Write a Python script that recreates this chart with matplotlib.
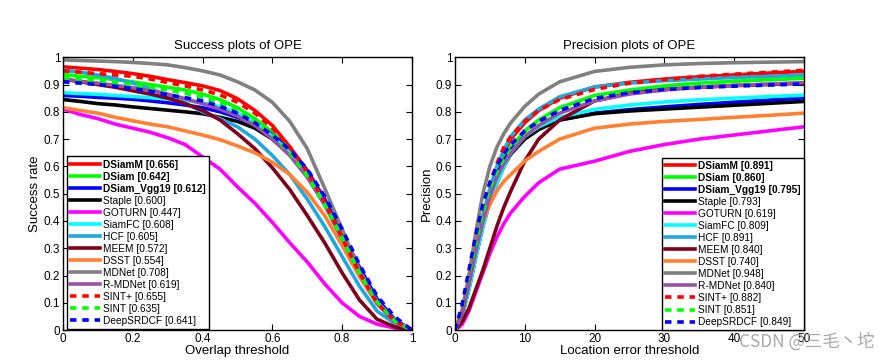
import numpy as np
import matplotlib
matplotlib.use("Agg")
import matplotlib.pyplot as plt
from matplotlib.ticker import FuncFormatter

plt.rcParams['font.family'] = ['Liberation Sans', 'DejaVu Sans']

# trackers (legend order)
names = ["DSiamM", "DSiam", "DSiam_Vgg19", "Staple", "GOTURN", "SiamFC", "HCF",
         "MEEM", "DSST", "MDNet", "R-MDNet", "SINT+", "SINT", "DeepSRDCF"]
auc = ["0.656", "0.642", "0.612", "0.600", "0.447", "0.608", "0.605",
       "0.572", "0.554", "0.708", "0.619", "0.655", "0.635", "0.641"]
prec20 = ["0.891", "0.860", "0.795", "0.793", "0.619", "0.809", "0.891",
          "0.840", "0.740", "0.948", "0.840", "0.882", "0.851", "0.849"]
colors = ["#ff0000", "#00ff00", "#0000ff", "#000000", "#ff00ff", "#00ffff", "#1ea8e0",
          "#80001a", "#ff8030", "#808080", "#9b50a8", "#ff0000", "#00ff00", "#0000ff"]
dashed = [False] * 11 + [True] * 3
bold = [True, True, True] + [False] * 11

# success plot: overlap thresholds 0:0.05:1
overlap = np.linspace(0, 1, 21)
success = {
    "DSiamM":      [.965, .96, .955, .948, .94, .93, .918, .907, .895, .878, .848, .805, .75, .672, .585, .47, .34, .21, .10, .035, 0],
    "DSiam":       [.937, .93, .925, .918, .91, .90, .89, .88, .865, .845, .815, .775, .725, .66, .575, .47, .345, .22, .11, .035, 0],
    "DSiam_Vgg19": [.86, .857, .853, .85, .846, .84, .833, .825, .815, .80, .78, .755, .715, .66, .585, .48, .355, .23, .115, .04, 0],
    "Staple":      [.845, .838, .83, .825, .818, .812, .806, .80, .793, .78, .765, .74, .70, .645, .565, .46, .335, .21, .10, .035, 0],
    "GOTURN":      [.81, .79, .775, .755, .74, .725, .705, .68, .635, .59, .525, .465, .395, .32, .25, .17, .10, .05, .022, .008, 0],
    "SiamFC":      [.87, .867, .864, .86, .856, .852, .848, .842, .833, .818, .795, .76, .71, .65, .57, .465, .34, .215, .105, .035, 0],
    "HCF":         [.953, .945, .935, .922, .905, .885, .86, .832, .80, .775, .745, .70, .64, .57, .48, .38, .27, .16, .07, .025, 0],
    "MEEM":        [.92, .91, .90, .89, .877, .865, .85, .83, .805, .77, .72, .665, .595, .515, .42, .32, .21, .11, .04, .012, 0],
    "DSST":        [.815, .805, .795, .78, .767, .755, .745, .73, .715, .698, .675, .65, .615, .57, .505, .42, .31, .195, .095, .035, 0],
    "MDNet":       [.99, .988, .986, .984, .981, .977, .972, .962, .95, .935, .91, .88, .835, .765, .665, .52, .37, .22, .10, .03, 0],
    "R-MDNet":     [.92, .912, .905, .897, .888, .878, .865, .848, .83, .81, .785, .75, .70, .64, .56, .46, .335, .21, .10, .035, 0],
    "SINT+":       [.95, .945, .94, .935, .93, .92, .907, .895, .88, .862, .835, .795, .74, .67, .58, .47, .34, .21, .10, .035, 0],
    "SINT":        [.925, .92, .915, .908, .90, .89, .88, .868, .853, .833, .805, .765, .715, .65, .565, .46, .335, .21, .105, .035, 0],
    "DeepSRDCF":   [.91, .905, .90, .893, .885, .875, .862, .852, .84, .82, .795, .76, .715, .66, .59, .49, .37, .24, .125, .05, 0],
}

# precision plot: location error thresholds (pixels)
loc_err = [0, 1, 2, 3, 4, 5, 6, 7, 8, 10, 12, 15, 20, 25, 30, 35, 40, 45, 50]
precision = {
    "DSiamM":      [0, .05, .16, .29, .41, .51, .59, .65, .70, .76, .805, .85, .891, .908, .92, .928, .935, .942, .948],
    "DSiam":       [0, .07, .19, .31, .42, .51, .58, .63, .67, .73, .77, .815, .86, .88, .895, .905, .912, .918, .923],
    "DSiam_Vgg19": [0, .06, .17, .30, .41, .50, .57, .62, .66, .71, .74, .77, .795, .808, .818, .827, .835, .843, .851],
    "Staple":      [0, .05, .15, .27, .38, .47, .54, .60, .645, .70, .735, .77, .793, .803, .81, .817, .824, .831, .838],
    "GOTURN":      [0, .02, .07, .14, .21, .28, .34, .39, .43, .49, .54, .59, .619, .655, .68, .70, .715, .73, .745],
    "SiamFC":      [0, .05, .15, .27, .38, .47, .54, .60, .65, .71, .745, .78, .809, .825, .836, .844, .85, .856, .861],
    "HCF":         [0, .06, .17, .30, .42, .52, .60, .66, .71, .77, .81, .855, .891, .905, .914, .92, .926, .93, .935],
    "MEEM":        [0, .03, .08, .15, .22, .30, .38, .45, .51, .62, .70, .77, .84, .868, .882, .89, .896, .90, .905],
    "DSST":        [0, .07, .20, .31, .40, .46, .51, .545, .57, .62, .655, .70, .74, .755, .765, .772, .78, .787, .795],
    "MDNet":       [0, .06, .20, .36, .50, .60, .67, .72, .76, .82, .865, .91, .948, .963, .972, .977, .98, .982, .984],
    "R-MDNet":     [0, .06, .17, .29, .40, .49, .56, .61, .65, .71, .75, .795, .84, .865, .88, .89, .897, .902, .907],
    "SINT+":       [0, .07, .19, .32, .44, .54, .61, .67, .71, .765, .805, .845, .882, .905, .918, .93, .938, .945, .952],
    "SINT":        [0, .08, .20, .32, .43, .52, .58, .63, .67, .725, .765, .81, .851, .877, .893, .904, .912, .918, .924],
    "DeepSRDCF":   [0, .09, .22, .35, .46, .54, .60, .645, .68, .73, .765, .805, .849, .87, .882, .889, .894, .898, .902],
}

fig = plt.figure(figsize=(8.9, 3.6), dpi=100)
ax1 = fig.add_axes([0.0708, 0.083, 0.392, 0.758])
ax2 = fig.add_axes([0.5112, 0.083, 0.392, 0.758])

def tick_fmt(v, pos):
    s = f"{v:.1f}"
    if s.endswith(".0"):
        s = s[:-2]
    return s

def draw(ax, xs, data, scores, xlabel, ylabel, title, xticks):
    for i, n in enumerate(names):
        ls = (0, (1.8, 1.6)) if dashed[i] else '-'
        ax.plot(xs, data[n], color=colors[i], lw=2.6, ls=ls,
                label=f"{n} [{scores[i]}]")
    ax.set_ylim(0, 1)
    ax.set_xlim(xs[0], xs[-1])
    ax.set_xticks(xticks)
    ax.set_yticks(np.arange(0, 1.01, 0.1))
    ax.xaxis.set_major_formatter(FuncFormatter(tick_fmt))
    ax.yaxis.set_major_formatter(FuncFormatter(tick_fmt))
    ax.tick_params(direction='in', top=True, right=True, labelsize=8.5, length=4, pad=2)
    ax.set_xlabel(xlabel, fontsize=9.5, labelpad=0)
    ax.set_ylabel(ylabel, fontsize=9.5, labelpad=2)
    ax.set_title(title, fontsize=9.5, pad=6)
    for sp in ax.spines.values():
        sp.set_linewidth(1.0)

draw(ax1, overlap, success, auc, "Overlap threshold", "Success rate",
     "Success plots of OPE", [0, 0.2, 0.4, 0.6, 0.8, 1])
draw(ax2, loc_err, precision, prec20, "Location error threshold", "Precision",
     "Precision plots of OPE", [0, 10, 20, 30, 40, 50])

def add_legend(ax, loc, anchor):
    leg = ax.legend(loc=loc, bbox_to_anchor=anchor, fontsize=7.3, handlelength=2.9,
                    labelspacing=0.2, borderpad=0.3, handletextpad=0.35,
                    fancybox=False, framealpha=1, edgecolor='black', borderaxespad=0)
    leg.get_frame().set_linewidth(1.0)
    for i, t in enumerate(leg.get_texts()):
        if bold[i]:
            t.set_fontweight('bold')

add_legend(ax1, 'lower left', (0.012, 0.004))
add_legend(ax2, 'lower right', (1.0, 0.0))

fig.text(0.983, 0.025, "CSDN @三毛丶坨", ha='right', va='bottom', fontsize=12.5,
         color='#a8a8a8', family=['Noto Sans CJK SC', 'DejaVu Sans'])

fig.savefig("out.png", dpi=100)
